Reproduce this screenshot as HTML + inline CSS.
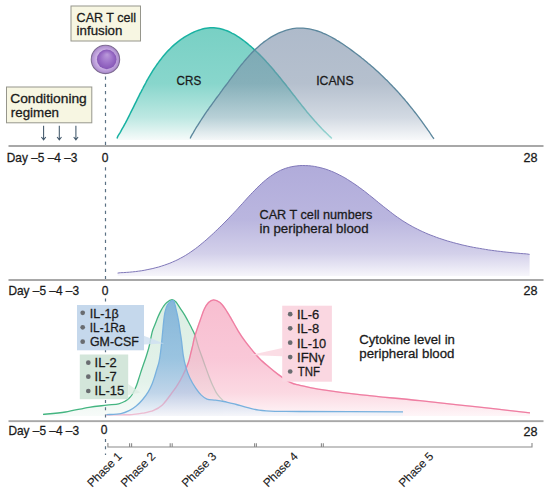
<!DOCTYPE html>
<html><head><meta charset="utf-8"><style>
html,body{margin:0;padding:0;background:#fff;}
svg{display:block;}
text{font-family:"Liberation Sans",sans-serif;fill:#1a1a1a;stroke:#1a1a1a;stroke-width:0.28px;}
.ph text{stroke-width:0.1px;}
</style></head><body>
<svg width="550" height="496" viewBox="0 0 550 496">
<defs>
<linearGradient id="gCRS" gradientUnits="userSpaceOnUse" x1="0" y1="27" x2="0" y2="140">
 <stop offset="0" stop-color="#78d0c4"/><stop offset="0.5" stop-color="#88d6cc"/><stop offset="0.8" stop-color="#bde8e2"/><stop offset="1" stop-color="#f6fbfa"/>
</linearGradient>
<linearGradient id="gICANS" gradientUnits="userSpaceOnUse" x1="0" y1="27" x2="0" y2="140">
 <stop offset="0" stop-color="#788ca7" stop-opacity="0.6"/><stop offset="0.5" stop-color="#8496ad" stop-opacity="0.6"/><stop offset="0.8" stop-color="#b4c0cf" stop-opacity="0.6"/><stop offset="1" stop-color="#f3f5f7" stop-opacity="0.6"/>
</linearGradient>
<linearGradient id="gCART" gradientUnits="userSpaceOnUse" x1="0" y1="163" x2="0" y2="276">
 <stop offset="0" stop-color="#b0abda"/><stop offset="0.5" stop-color="#bab6df"/><stop offset="0.8" stop-color="#d3d0ea"/><stop offset="1" stop-color="#f7f6fb"/>
</linearGradient>
<linearGradient id="gGreen" gradientUnits="userSpaceOnUse" x1="0" y1="300" x2="0" y2="416">
 <stop offset="0" stop-color="#dbeee3"/><stop offset="0.7" stop-color="#e3f2ea"/><stop offset="1" stop-color="#f7fbf9"/>
</linearGradient>
<linearGradient id="gBlue" gradientUnits="userSpaceOnUse" x1="0" y1="300" x2="0" y2="416">
 <stop offset="0" stop-color="#6fa7d6"/><stop offset="0.5" stop-color="#86b7de"/><stop offset="0.8" stop-color="#b4cce8"/><stop offset="1" stop-color="#f3f6fb"/>
</linearGradient>
<linearGradient id="gPink" gradientUnits="userSpaceOnUse" x1="0" y1="300" x2="0" y2="416">
 <stop offset="0" stop-color="#f5a5be"/><stop offset="0.5" stop-color="#f7b2c8"/><stop offset="0.8" stop-color="#facad7"/><stop offset="1" stop-color="#fef2f5"/>
</linearGradient>
<radialGradient id="gCell" cx="0.5" cy="0.5" r="0.5" fx="0.52" fy="0.25">
 <stop offset="0" stop-color="#bb9bdb"/><stop offset="0.6" stop-color="#9c70c8"/><stop offset="1" stop-color="#8657b6"/>
</radialGradient>
<radialGradient id="gCellO" cx="0.5" cy="0.5" r="0.5">
 <stop offset="0.62" stop-color="#cfb6e6"/><stop offset="1" stop-color="#a887cb"/>
</radialGradient>
</defs>

<!-- top panel -->
<path d="M117.0,138.5 L117.8,136.3 L118.8,134.7 L119.8,133.1 L120.8,131.4 L121.7,129.7 L122.7,128.0 L123.6,126.3 L124.5,124.6 L125.5,122.9 L126.4,121.1 L127.3,119.4 L128.2,117.6 L129.1,115.8 L130.0,114.0 L130.9,112.2 L131.8,110.4 L132.7,108.6 L133.6,106.8 L134.5,104.9 L135.4,103.1 L136.3,101.3 L137.2,99.4 L138.1,97.6 L139.0,95.8 L139.9,93.9 L140.9,92.1 L141.8,90.3 L142.8,88.5 L143.7,86.6 L144.7,84.8 L145.7,83.0 L146.6,81.2 L147.6,79.5 L148.6,77.7 L149.7,75.9 L150.7,74.2 L151.8,72.4 L152.8,70.7 L153.9,69.0 L155.0,67.3 L156.2,65.6 L157.3,64.0 L158.5,62.4 L159.7,60.7 L160.9,59.2 L162.1,57.6 L163.4,56.0 L164.7,54.5 L166.0,53.0 L167.3,51.5 L168.7,50.1 L170.1,48.7 L171.5,47.3 L173.0,45.9 L174.4,44.6 L176.0,43.3 L177.5,42.1 L179.1,40.8 L180.7,39.7 L182.3,38.5 L184.0,37.4 L185.7,36.3 L187.5,35.3 L189.3,34.3 L191.1,33.3 L192.9,32.5 L194.8,31.6 L196.7,30.9 L198.6,30.2 L200.5,29.6 L202.4,29.1 L204.3,28.6 L206.2,28.3 L208.2,28.0 L210.1,27.8 L212.0,27.8 L213.9,27.8 L215.8,28.0 L217.6,28.2 L219.5,28.6 L221.4,29.0 L223.2,29.5 L225.0,30.1 L226.9,30.8 L228.7,31.5 L230.5,32.4 L232.2,33.3 L234.0,34.2 L235.7,35.2 L237.5,36.3 L239.2,37.4 L240.9,38.6 L242.6,39.8 L244.2,41.0 L245.9,42.3 L247.5,43.6 L249.1,45.0 L250.7,46.3 L252.3,47.7 L253.8,49.1 L255.3,50.6 L256.8,52.0 L258.3,53.4 L259.8,54.9 L261.2,56.3 L262.7,57.8 L264.1,59.3 L265.5,60.8 L266.8,62.3 L268.2,63.8 L269.5,65.3 L270.9,66.8 L272.2,68.3 L273.5,69.8 L274.8,71.4 L276.1,72.9 L277.4,74.4 L278.6,76.0 L279.9,77.5 L281.2,79.1 L282.4,80.7 L283.6,82.2 L284.9,83.8 L286.1,85.3 L287.3,86.9 L288.6,88.5 L289.8,90.0 L291.0,91.6 L292.2,93.2 L293.4,94.8 L294.7,96.3 L295.9,97.9 L297.1,99.5 L298.3,101.0 L299.5,102.6 L300.8,104.1 L302.0,105.7 L303.3,107.3 L304.5,108.8 L305.8,110.4 L307.0,111.9 L308.3,113.4 L309.6,115.0 L310.9,116.5 L312.2,118.0 L313.5,119.5 L314.8,121.0 L316.2,122.5 L317.5,124.0 L318.9,125.5 L320.3,127.0 L321.7,128.5 L323.1,129.9 L324.5,131.4 L326.0,132.8 L327.5,134.2 L329.0,135.7 L330.5,137.1 L331.8,138.5 L331.8,140 L117.0,140 Z" fill="url(#gCRS)"/>
<path d="M117.0,138.5 L117.8,136.3 L118.8,134.7 L119.8,133.1 L120.8,131.4 L121.7,129.7 L122.7,128.0 L123.6,126.3 L124.5,124.6 L125.5,122.9 L126.4,121.1 L127.3,119.4 L128.2,117.6 L129.1,115.8 L130.0,114.0 L130.9,112.2 L131.8,110.4 L132.7,108.6 L133.6,106.8 L134.5,104.9 L135.4,103.1 L136.3,101.3 L137.2,99.4 L138.1,97.6 L139.0,95.8 L139.9,93.9 L140.9,92.1 L141.8,90.3 L142.8,88.5 L143.7,86.6 L144.7,84.8 L145.7,83.0 L146.6,81.2 L147.6,79.5 L148.6,77.7 L149.7,75.9 L150.7,74.2 L151.8,72.4 L152.8,70.7 L153.9,69.0 L155.0,67.3 L156.2,65.6 L157.3,64.0 L158.5,62.4 L159.7,60.7 L160.9,59.2 L162.1,57.6 L163.4,56.0 L164.7,54.5 L166.0,53.0 L167.3,51.5 L168.7,50.1 L170.1,48.7 L171.5,47.3 L173.0,45.9 L174.4,44.6 L176.0,43.3 L177.5,42.1 L179.1,40.8 L180.7,39.7 L182.3,38.5 L184.0,37.4 L185.7,36.3 L187.5,35.3 L189.3,34.3 L191.1,33.3 L192.9,32.5 L194.8,31.6 L196.7,30.9 L198.6,30.2 L200.5,29.6 L202.4,29.1 L204.3,28.6 L206.2,28.3 L208.2,28.0 L210.1,27.8 L212.0,27.8 L213.9,27.8 L215.8,28.0 L217.6,28.2 L219.5,28.6 L221.4,29.0 L223.2,29.5 L225.0,30.1 L226.9,30.8 L228.7,31.5 L230.5,32.4 L232.2,33.3 L234.0,34.2 L235.7,35.2 L237.5,36.3 L239.2,37.4 L240.9,38.6 L242.6,39.8 L244.2,41.0 L245.9,42.3 L247.5,43.6 L249.1,45.0 L250.7,46.3 L252.3,47.7 L253.8,49.1 L255.3,50.6 L256.8,52.0 L258.3,53.4 L259.8,54.9 L261.2,56.3 L262.7,57.8 L264.1,59.3 L265.5,60.8 L266.8,62.3 L268.2,63.8 L269.5,65.3 L270.9,66.8 L272.2,68.3 L273.5,69.8 L274.8,71.4 L276.1,72.9 L277.4,74.4 L278.6,76.0 L279.9,77.5 L281.2,79.1 L282.4,80.7 L283.6,82.2 L284.9,83.8 L286.1,85.3 L287.3,86.9 L288.6,88.5 L289.8,90.0 L291.0,91.6 L292.2,93.2 L293.4,94.8 L294.7,96.3 L295.9,97.9 L297.1,99.5 L298.3,101.0 L299.5,102.6 L300.8,104.1 L302.0,105.7 L303.3,107.3 L304.5,108.8 L305.8,110.4 L307.0,111.9 L308.3,113.4 L309.6,115.0 L310.9,116.5 L312.2,118.0 L313.5,119.5 L314.8,121.0 L316.2,122.5 L317.5,124.0 L318.9,125.5 L320.3,127.0 L321.7,128.5 L323.1,129.9 L324.5,131.4 L326.0,132.8 L327.5,134.2 L329.0,135.7 L330.5,137.1 L331.8,138.5" fill="none" stroke="#19b2a2" stroke-width="1.5"/>
<path d="M190.2,138.5 L191.0,136.6 L192.1,134.6 L193.2,132.8 L194.3,130.9 L195.4,129.0 L196.5,127.2 L197.7,125.4 L198.8,123.6 L199.9,121.8 L201.1,120.0 L202.3,118.2 L203.5,116.4 L204.6,114.7 L205.8,112.9 L207.0,111.2 L208.2,109.5 L209.4,107.7 L210.7,106.0 L211.9,104.3 L213.1,102.6 L214.4,100.9 L215.6,99.2 L216.8,97.5 L218.1,95.8 L219.4,94.1 L220.6,92.4 L221.9,90.7 L223.1,88.9 L224.4,87.2 L225.7,85.5 L227.0,83.8 L228.3,82.1 L229.5,80.3 L230.8,78.6 L232.1,76.8 L233.4,75.1 L234.7,73.3 L236.1,71.6 L237.4,69.9 L238.7,68.2 L240.1,66.4 L241.4,64.7 L242.8,63.1 L244.2,61.4 L245.6,59.7 L247.0,58.1 L248.5,56.5 L249.9,54.9 L251.4,53.3 L252.9,51.8 L254.4,50.3 L256.0,48.8 L257.5,47.4 L259.1,45.9 L260.7,44.6 L262.4,43.2 L264.0,41.9 L265.7,40.7 L267.5,39.5 L269.2,38.3 L271.0,37.2 L272.8,36.1 L274.7,35.1 L276.6,34.1 L278.5,33.2 L280.4,32.3 L282.4,31.6 L284.4,30.8 L286.5,30.2 L288.5,29.6 L290.6,29.1 L292.6,28.7 L294.7,28.4 L296.8,28.2 L298.9,28.1 L301.0,28.1 L303.1,28.1 L305.2,28.3 L307.2,28.6 L309.3,28.9 L311.4,29.3 L313.4,29.8 L315.4,30.4 L317.4,31.0 L319.4,31.7 L321.4,32.4 L323.4,33.3 L325.4,34.1 L327.3,35.0 L329.2,36.0 L331.2,37.0 L333.1,38.1 L335.0,39.2 L336.8,40.3 L338.7,41.4 L340.5,42.6 L342.4,43.8 L344.2,45.0 L346.0,46.3 L347.8,47.5 L349.6,48.8 L351.4,50.1 L353.1,51.4 L354.9,52.7 L356.6,54.0 L358.3,55.3 L360.0,56.6 L361.7,58.0 L363.4,59.3 L365.1,60.7 L366.7,62.0 L368.3,63.4 L370.0,64.8 L371.6,66.2 L373.2,67.6 L374.8,69.0 L376.4,70.4 L377.9,71.8 L379.5,73.3 L381.0,74.7 L382.6,76.2 L384.1,77.7 L385.6,79.2 L387.1,80.6 L388.6,82.1 L390.1,83.7 L391.6,85.2 L393.0,86.7 L394.5,88.2 L395.9,89.8 L397.3,91.3 L398.8,92.9 L400.2,94.5 L401.6,96.1 L403.0,97.7 L404.4,99.3 L405.7,100.9 L407.1,102.5 L408.5,104.2 L409.8,105.8 L411.1,107.5 L412.5,109.1 L413.8,110.8 L415.1,112.5 L416.4,114.2 L417.7,115.9 L419.0,117.6 L420.3,119.3 L421.6,121.1 L422.8,122.8 L424.1,124.6 L425.3,126.3 L426.6,128.1 L427.8,129.9 L429.1,131.7 L430.3,133.5 L431.5,135.3 L432.7,137.1 L434.0,138.7 L434.0,140 L190.2,140 Z" fill="url(#gICANS)"/>
<path d="M190.2,138.5 L191.0,136.6 L192.1,134.6 L193.2,132.8 L194.3,130.9 L195.4,129.0 L196.5,127.2 L197.7,125.4 L198.8,123.6 L199.9,121.8 L201.1,120.0 L202.3,118.2 L203.5,116.4 L204.6,114.7 L205.8,112.9 L207.0,111.2 L208.2,109.5 L209.4,107.7 L210.7,106.0 L211.9,104.3 L213.1,102.6 L214.4,100.9 L215.6,99.2 L216.8,97.5 L218.1,95.8 L219.4,94.1 L220.6,92.4 L221.9,90.7 L223.1,88.9 L224.4,87.2 L225.7,85.5 L227.0,83.8 L228.3,82.1 L229.5,80.3 L230.8,78.6 L232.1,76.8 L233.4,75.1 L234.7,73.3 L236.1,71.6 L237.4,69.9 L238.7,68.2 L240.1,66.4 L241.4,64.7 L242.8,63.1 L244.2,61.4 L245.6,59.7 L247.0,58.1 L248.5,56.5 L249.9,54.9 L251.4,53.3 L252.9,51.8 L254.4,50.3 L256.0,48.8 L257.5,47.4 L259.1,45.9 L260.7,44.6 L262.4,43.2 L264.0,41.9 L265.7,40.7 L267.5,39.5 L269.2,38.3 L271.0,37.2 L272.8,36.1 L274.7,35.1 L276.6,34.1 L278.5,33.2 L280.4,32.3 L282.4,31.6 L284.4,30.8 L286.5,30.2 L288.5,29.6 L290.6,29.1 L292.6,28.7 L294.7,28.4 L296.8,28.2 L298.9,28.1 L301.0,28.1 L303.1,28.1 L305.2,28.3 L307.2,28.6 L309.3,28.9 L311.4,29.3 L313.4,29.8 L315.4,30.4 L317.4,31.0 L319.4,31.7 L321.4,32.4 L323.4,33.3 L325.4,34.1 L327.3,35.0 L329.2,36.0 L331.2,37.0 L333.1,38.1 L335.0,39.2 L336.8,40.3 L338.7,41.4 L340.5,42.6 L342.4,43.8 L344.2,45.0 L346.0,46.3 L347.8,47.5 L349.6,48.8 L351.4,50.1 L353.1,51.4 L354.9,52.7 L356.6,54.0 L358.3,55.3 L360.0,56.6 L361.7,58.0 L363.4,59.3 L365.1,60.7 L366.7,62.0 L368.3,63.4 L370.0,64.8 L371.6,66.2 L373.2,67.6 L374.8,69.0 L376.4,70.4 L377.9,71.8 L379.5,73.3 L381.0,74.7 L382.6,76.2 L384.1,77.7 L385.6,79.2 L387.1,80.6 L388.6,82.1 L390.1,83.7 L391.6,85.2 L393.0,86.7 L394.5,88.2 L395.9,89.8 L397.3,91.3 L398.8,92.9 L400.2,94.5 L401.6,96.1 L403.0,97.7 L404.4,99.3 L405.7,100.9 L407.1,102.5 L408.5,104.2 L409.8,105.8 L411.1,107.5 L412.5,109.1 L413.8,110.8 L415.1,112.5 L416.4,114.2 L417.7,115.9 L419.0,117.6 L420.3,119.3 L421.6,121.1 L422.8,122.8 L424.1,124.6 L425.3,126.3 L426.6,128.1 L427.8,129.9 L429.1,131.7 L430.3,133.5 L431.5,135.3 L432.7,137.1 L434.0,138.7" fill="none" stroke="#5c879d" stroke-width="1.35"/>
<text x="176.6" y="84.8" font-size="13.65" textLength="24.6" lengthAdjust="spacingAndGlyphs" >CRS</text>
<text x="316.2" y="85.1" font-size="13.44" textLength="37.4" lengthAdjust="spacingAndGlyphs" >ICANS</text>

<!-- middle panel -->
<path d="M117.6,273.1 L120.5,272.7 L123.5,272.6 L126.4,272.4 L129.4,272.2 L132.4,271.9 L135.4,271.6 L138.3,271.2 L141.3,270.8 L144.2,270.3 L147.1,269.7 L150.0,269.1 L152.9,268.5 L155.8,267.7 L158.7,267.0 L161.5,266.1 L164.3,265.2 L167.1,264.2 L169.9,263.2 L172.6,262.0 L175.3,260.8 L177.9,259.6 L180.5,258.2 L183.1,256.8 L185.7,255.3 L188.2,253.7 L190.6,252.1 L193.0,250.4 L195.4,248.7 L197.8,246.9 L200.1,245.0 L202.4,243.1 L204.7,241.2 L206.9,239.3 L209.1,237.3 L211.3,235.3 L213.5,233.3 L215.6,231.3 L217.7,229.2 L219.8,227.2 L221.9,225.2 L224.0,223.1 L226.0,221.0 L228.1,218.9 L230.1,216.8 L232.1,214.7 L234.2,212.5 L236.2,210.4 L238.2,208.2 L240.2,205.9 L242.3,203.7 L244.3,201.4 L246.4,199.1 L248.4,196.9 L250.5,194.6 L252.6,192.4 L254.8,190.2 L256.9,188.0 L259.1,185.9 L261.3,183.8 L263.5,181.8 L265.8,179.9 L268.1,178.0 L270.5,176.3 L272.9,174.7 L275.4,173.1 L277.9,171.7 L280.4,170.4 L283.0,169.3 L285.7,168.3 L288.4,167.5 L291.2,166.8 L294.0,166.3 L296.9,165.9 L299.8,165.6 L302.7,165.5 L305.6,165.6 L308.6,165.7 L311.5,166.0 L314.4,166.4 L317.3,167.0 L320.2,167.6 L323.1,168.4 L325.9,169.2 L328.7,170.2 L331.5,171.3 L334.2,172.4 L336.9,173.7 L339.5,175.0 L342.2,176.4 L344.8,177.8 L347.4,179.4 L349.9,181.0 L352.4,182.6 L354.9,184.3 L357.4,186.0 L359.8,187.8 L362.3,189.6 L364.7,191.4 L367.1,193.3 L369.4,195.2 L371.8,197.0 L374.1,198.9 L376.4,200.8 L378.7,202.7 L381.0,204.6 L383.3,206.4 L385.7,208.3 L388.0,210.1 L390.3,211.9 L392.7,213.7 L395.0,215.5 L397.4,217.2 L399.8,218.8 L402.2,220.5 L404.7,222.0 L407.2,223.6 L409.7,225.0 L412.3,226.5 L414.9,227.9 L417.5,229.2 L420.1,230.5 L422.7,231.7 L425.4,232.9 L428.1,234.1 L430.9,235.2 L433.6,236.2 L436.4,237.3 L439.2,238.3 L442.0,239.2 L444.8,240.1 L447.6,241.0 L450.5,241.8 L453.3,242.6 L456.2,243.4 L459.1,244.1 L462.0,244.9 L464.9,245.5 L467.8,246.2 L470.8,246.8 L473.7,247.4 L476.6,247.9 L479.6,248.4 L482.5,248.9 L485.5,249.4 L488.5,249.9 L491.4,250.3 L494.4,250.7 L497.3,251.1 L500.3,251.4 L503.2,251.8 L506.2,252.1 L509.1,252.4 L512.1,252.7 L515.0,253.0 L517.9,253.2 L520.8,253.5 L523.7,253.7 L526.6,253.9 L529.6,254.4 L529.6,276 L117.6,276 Z" fill="url(#gCART)"/>
<path d="M117.6,273.1 L120.5,272.7 L123.5,272.6 L126.4,272.4 L129.4,272.2 L132.4,271.9 L135.4,271.6 L138.3,271.2 L141.3,270.8 L144.2,270.3 L147.1,269.7 L150.0,269.1 L152.9,268.5 L155.8,267.7 L158.7,267.0 L161.5,266.1 L164.3,265.2 L167.1,264.2 L169.9,263.2 L172.6,262.0 L175.3,260.8 L177.9,259.6 L180.5,258.2 L183.1,256.8 L185.7,255.3 L188.2,253.7 L190.6,252.1 L193.0,250.4 L195.4,248.7 L197.8,246.9 L200.1,245.0 L202.4,243.1 L204.7,241.2 L206.9,239.3 L209.1,237.3 L211.3,235.3 L213.5,233.3 L215.6,231.3 L217.7,229.2 L219.8,227.2 L221.9,225.2 L224.0,223.1 L226.0,221.0 L228.1,218.9 L230.1,216.8 L232.1,214.7 L234.2,212.5 L236.2,210.4 L238.2,208.2 L240.2,205.9 L242.3,203.7 L244.3,201.4 L246.4,199.1 L248.4,196.9 L250.5,194.6 L252.6,192.4 L254.8,190.2 L256.9,188.0 L259.1,185.9 L261.3,183.8 L263.5,181.8 L265.8,179.9 L268.1,178.0 L270.5,176.3 L272.9,174.7 L275.4,173.1 L277.9,171.7 L280.4,170.4 L283.0,169.3 L285.7,168.3 L288.4,167.5 L291.2,166.8 L294.0,166.3 L296.9,165.9 L299.8,165.6 L302.7,165.5 L305.6,165.6 L308.6,165.7 L311.5,166.0 L314.4,166.4 L317.3,167.0 L320.2,167.6 L323.1,168.4 L325.9,169.2 L328.7,170.2 L331.5,171.3 L334.2,172.4 L336.9,173.7 L339.5,175.0 L342.2,176.4 L344.8,177.8 L347.4,179.4 L349.9,181.0 L352.4,182.6 L354.9,184.3 L357.4,186.0 L359.8,187.8 L362.3,189.6 L364.7,191.4 L367.1,193.3 L369.4,195.2 L371.8,197.0 L374.1,198.9 L376.4,200.8 L378.7,202.7 L381.0,204.6 L383.3,206.4 L385.7,208.3 L388.0,210.1 L390.3,211.9 L392.7,213.7 L395.0,215.5 L397.4,217.2 L399.8,218.8 L402.2,220.5 L404.7,222.0 L407.2,223.6 L409.7,225.0 L412.3,226.5 L414.9,227.9 L417.5,229.2 L420.1,230.5 L422.7,231.7 L425.4,232.9 L428.1,234.1 L430.9,235.2 L433.6,236.2 L436.4,237.3 L439.2,238.3 L442.0,239.2 L444.8,240.1 L447.6,241.0 L450.5,241.8 L453.3,242.6 L456.2,243.4 L459.1,244.1 L462.0,244.9 L464.9,245.5 L467.8,246.2 L470.8,246.8 L473.7,247.4 L476.6,247.9 L479.6,248.4 L482.5,248.9 L485.5,249.4 L488.5,249.9 L491.4,250.3 L494.4,250.7 L497.3,251.1 L500.3,251.4 L503.2,251.8 L506.2,252.1 L509.1,252.4 L512.1,252.7 L515.0,253.0 L517.9,253.2 L520.8,253.5 L523.7,253.7 L526.6,253.9 L529.6,254.4" fill="none" stroke="#8078b9" stroke-width="1"/>
<text x="259.5" y="218.9" font-size="13.02" textLength="112.8" lengthAdjust="spacingAndGlyphs" >CAR T cell numbers</text>
<text x="259.5" y="232.6" font-size="13.02" textLength="109" lengthAdjust="spacingAndGlyphs" >in peripheral blood</text>

<!-- bottom panel -->
<path d="M43.0,414.4 C46.8,414.0 57.8,413.2 65.5,412.0 C73.2,410.8 82.2,408.4 89.0,407.3 C95.8,406.2 101.5,405.8 106.5,405.2 C111.5,404.6 115.6,404.5 118.7,403.8 C121.8,403.1 123.5,402.1 125.3,401.1 C127.1,400.1 128.2,399.1 129.3,398.0 C130.5,396.9 131.3,395.8 132.2,394.5 C133.1,393.2 133.8,391.6 134.6,390.0 C135.3,388.4 136.0,386.9 136.7,385.0 C137.4,383.1 138.1,380.8 138.8,378.5 C139.6,376.2 140.4,373.4 141.2,371.0 C142.0,368.6 142.7,366.6 143.6,364.0 C144.5,361.4 145.6,358.5 146.5,355.5 C147.4,352.5 148.3,350.0 149.2,346.1 C150.1,342.2 151.2,335.7 152.1,332.3 C153.0,328.9 153.6,328.1 154.5,325.8 C155.4,323.5 156.4,320.9 157.3,318.6 C158.2,316.3 159.2,314.1 160.2,312.1 C161.2,310.1 162.3,308.1 163.4,306.5 C164.5,304.9 165.4,303.5 166.8,302.4 C168.2,301.3 170.5,299.8 172.0,299.7 C173.5,299.6 174.7,300.6 176.0,302.0 C177.3,303.4 178.8,306.1 180.1,308.1 C181.4,310.1 182.8,311.9 184.1,314.1 C185.4,316.3 186.8,318.9 188.1,321.2 C189.4,323.5 190.5,325.8 191.7,328.2 C192.9,330.6 194.1,332.6 195.2,335.8 C196.3,339.0 197.4,343.6 198.5,347.1 C199.6,350.6 200.8,353.7 202.0,357.0 C203.2,360.3 204.3,363.6 205.5,366.9 C206.7,370.2 207.9,373.6 209.1,376.7 C210.3,379.8 211.4,382.6 212.6,385.2 C213.8,387.8 214.9,390.3 216.1,392.3 C217.3,394.3 218.5,395.8 219.7,397.2 C220.9,398.6 222.6,400.2 223.2,400.8 L223.2,416 L43.0,416 Z" fill="url(#gGreen)"/>
<path d="M43.0,414.4 C46.8,414.0 57.8,413.2 65.5,412.0 C73.2,410.8 82.2,408.4 89.0,407.3 C95.8,406.2 101.5,405.8 106.5,405.2 C111.5,404.6 115.6,404.5 118.7,403.8 C121.8,403.1 123.5,402.1 125.3,401.1 C127.1,400.1 128.2,399.1 129.3,398.0 C130.5,396.9 131.3,395.8 132.2,394.5 C133.1,393.2 133.8,391.6 134.6,390.0 C135.3,388.4 136.0,386.9 136.7,385.0 C137.4,383.1 138.1,380.8 138.8,378.5 C139.6,376.2 140.4,373.4 141.2,371.0 C142.0,368.6 142.7,366.6 143.6,364.0 C144.5,361.4 145.6,358.5 146.5,355.5 C147.4,352.5 148.3,350.0 149.2,346.1 C150.1,342.2 151.2,335.7 152.1,332.3 C153.0,328.9 153.6,328.1 154.5,325.8 C155.4,323.5 156.4,320.9 157.3,318.6 C158.2,316.3 159.2,314.1 160.2,312.1 C161.2,310.1 162.3,308.1 163.4,306.5 C164.5,304.9 165.4,303.5 166.8,302.4 C168.2,301.3 170.5,299.8 172.0,299.7 C173.5,299.6 174.7,300.6 176.0,302.0 C177.3,303.4 178.8,306.1 180.1,308.1 C181.4,310.1 182.8,311.9 184.1,314.1 C185.4,316.3 186.8,318.9 188.1,321.2 C189.4,323.5 190.5,325.8 191.7,328.2 C192.9,330.6 194.1,332.6 195.2,335.8 C196.3,339.0 197.4,343.6 198.5,347.1 C199.6,350.6 200.8,353.7 202.0,357.0 C203.2,360.3 204.3,363.6 205.5,366.9 C206.7,370.2 207.9,373.6 209.1,376.7 C210.3,379.8 211.4,382.6 212.6,385.2 C213.8,387.8 214.9,390.3 216.1,392.3 C217.3,394.3 218.5,395.8 219.7,397.2 C220.9,398.6 222.6,400.2 223.2,400.8" fill="none" stroke="#44b581" stroke-width="1.3"/>
<path d="M106.5,415.0 C108.9,415.0 116.7,414.9 120.9,414.8 C125.1,414.7 128.2,414.9 131.8,414.6 C135.4,414.3 139.1,413.9 142.7,413.2 C146.3,412.5 150.3,411.8 153.6,410.4 C156.9,409.0 159.7,407.4 162.4,404.9 C165.1,402.4 167.5,398.8 170.0,395.5 C172.5,392.2 175.2,388.6 177.4,385.2 C179.6,381.8 181.2,378.7 183.0,375.0 C184.8,371.3 186.9,366.7 188.2,363.0 C189.5,359.3 190.1,355.9 190.8,353.0 C191.6,350.1 192.1,347.8 192.7,345.4 C193.3,342.9 193.5,340.8 194.2,338.3 C194.9,335.8 195.7,333.3 196.7,330.3 C197.7,327.3 198.9,323.7 200.2,320.2 C201.5,316.7 202.9,312.1 204.3,309.1 C205.7,306.2 206.9,304.1 208.5,302.5 C210.1,300.9 211.7,299.8 213.6,299.8 C215.5,299.8 218.0,300.9 220.0,302.5 C222.0,304.1 223.6,306.5 225.4,309.1 C227.2,311.7 228.8,314.5 230.9,318.1 C233.0,321.7 235.7,326.9 238.1,330.8 C240.5,334.7 243.0,338.4 245.4,341.7 C247.8,345.0 250.3,347.9 252.7,350.8 C255.1,353.7 257.2,356.3 259.9,359.0 C262.6,361.7 266.0,364.5 269.0,367.1 C272.0,369.7 274.5,371.8 278.1,374.4 C281.7,377.0 287.2,380.8 290.8,382.6 C294.4,384.4 295.4,384.2 300.0,385.3 C304.6,386.4 307.9,387.5 318.2,389.1 C328.5,390.7 344.8,393.0 361.8,394.9 C378.8,396.8 401.1,398.7 420.0,400.7 C438.9,402.7 456.7,404.7 475.0,406.7 C493.3,408.7 520.8,411.8 530.0,412.8 L530.0,416 L106.5,416 Z" fill="url(#gPink)" fill-opacity="0.72"/>
<path d="M106.5,415.0 C108.9,415.0 116.7,414.9 120.9,414.8 C125.1,414.7 128.2,414.9 131.8,414.6 C135.4,414.3 139.1,413.9 142.7,413.2 C146.3,412.5 150.3,411.8 153.6,410.4 C156.9,409.0 159.7,407.4 162.4,404.9 C165.1,402.4 167.5,398.8 170.0,395.5 C172.5,392.2 175.2,388.6 177.4,385.2 C179.6,381.8 181.2,378.7 183.0,375.0 C184.8,371.3 186.9,366.7 188.2,363.0 C189.5,359.3 190.1,355.9 190.8,353.0 C191.6,350.1 192.1,347.8 192.7,345.4 C193.3,342.9 193.5,340.8 194.2,338.3 C194.9,335.8 195.7,333.3 196.7,330.3 C197.7,327.3 198.9,323.7 200.2,320.2 C201.5,316.7 202.9,312.1 204.3,309.1 C205.7,306.2 206.9,304.1 208.5,302.5 C210.1,300.9 211.7,299.8 213.6,299.8 C215.5,299.8 218.0,300.9 220.0,302.5 C222.0,304.1 223.6,306.5 225.4,309.1 C227.2,311.7 228.8,314.5 230.9,318.1 C233.0,321.7 235.7,326.9 238.1,330.8 C240.5,334.7 243.0,338.4 245.4,341.7 C247.8,345.0 250.3,347.9 252.7,350.8 C255.1,353.7 257.2,356.3 259.9,359.0 C262.6,361.7 266.0,364.5 269.0,367.1 C272.0,369.7 274.5,371.8 278.1,374.4 C281.7,377.0 287.2,380.8 290.8,382.6 C294.4,384.4 295.4,384.2 300.0,385.3 C304.6,386.4 307.9,387.5 318.2,389.1 C328.5,390.7 344.8,393.0 361.8,394.9 C378.8,396.8 401.1,398.7 420.0,400.7 C438.9,402.7 456.7,404.7 475.0,406.7 C493.3,408.7 520.8,411.8 530.0,412.8" fill="none" stroke="#f07fa3" stroke-width="1.3"/>
<path d="M106.5,414.7 C108.9,414.5 117.1,414.3 120.9,413.6 C124.8,412.9 127.0,411.7 129.6,410.4 C132.1,409.1 134.0,407.8 136.2,406.0 C138.4,404.2 140.7,401.9 142.7,399.5 C144.7,397.1 146.6,394.4 148.2,391.8 C149.8,389.2 150.9,386.8 152.0,384.2 C153.1,381.6 153.9,378.9 154.7,376.5 C155.5,374.1 155.9,372.4 156.6,370.0 C157.3,367.6 158.2,365.3 158.9,362.3 C159.6,359.3 160.2,355.2 160.6,352.0 C161.0,348.8 161.3,345.8 161.6,343.0 C161.9,340.2 162.1,337.9 162.3,335.5 C162.5,333.1 162.8,330.9 163.0,328.3 C163.2,325.8 163.5,322.9 163.8,320.2 C164.1,317.5 164.4,314.7 165.0,312.1 C165.6,309.6 166.3,306.8 167.4,304.9 C168.5,303.0 170.4,301.4 171.5,300.8 C172.6,300.2 173.2,299.9 174.0,301.6 C174.8,303.3 175.7,307.8 176.5,311.1 C177.3,314.4 178.0,317.8 178.6,321.2 C179.2,324.6 179.6,327.9 180.1,331.3 C180.6,334.7 181.1,337.4 181.6,341.3 C182.1,345.2 182.5,350.6 183.2,355.0 C183.9,359.4 184.8,363.5 185.9,367.4 C187.0,371.3 188.4,374.8 190.0,378.2 C191.6,381.6 193.8,385.3 195.7,388.1 C197.6,390.9 199.4,393.3 201.3,395.1 C203.2,396.9 204.7,398.3 207.0,399.1 C209.3,399.9 212.6,399.7 215.4,400.1 C218.2,400.5 221.5,401.0 223.9,401.5 C226.3,402.0 227.5,402.4 229.6,402.9 C231.7,403.4 233.5,403.7 236.5,404.5 C239.5,405.3 243.9,406.8 247.7,407.7 C251.4,408.6 254.4,409.6 259.0,410.2 C263.6,410.8 268.2,411.1 275.0,411.3 C281.8,411.5 278.7,411.4 300.0,411.5 C321.3,411.6 385.8,411.8 403.0,411.8 L403.0,416 L106.5,416 Z" fill="url(#gBlue)" fill-opacity="0.78"/>
<path d="M106.5,415.0 C108.9,415.0 116.7,414.9 120.9,414.8 C125.1,414.7 128.2,414.9 131.8,414.6 C135.4,414.3 139.1,413.9 142.7,413.2 C146.3,412.5 150.3,411.8 153.6,410.4 C156.9,409.0 159.7,407.4 162.4,404.9 C165.1,402.4 167.5,398.8 170.0,395.5 C172.5,392.2 175.2,388.6 177.4,385.2 C179.6,381.8 181.2,378.7 183.0,375.0 C184.8,371.3 186.9,366.7 188.2,363.0 C189.5,359.3 190.1,355.9 190.8,353.0 C191.6,350.1 192.1,347.8 192.7,345.4 C193.3,342.9 193.5,340.8 194.2,338.3 C194.9,335.8 195.7,333.3 196.7,330.3 C197.7,327.3 198.9,323.7 200.2,320.2 C201.5,316.7 202.9,312.1 204.3,309.1 C205.7,306.2 206.9,304.1 208.5,302.5 C210.1,300.9 211.7,299.8 213.6,299.8 C215.5,299.8 218.0,300.9 220.0,302.5 C222.0,304.1 223.6,306.5 225.4,309.1 C227.2,311.7 228.8,314.5 230.9,318.1 C233.0,321.7 235.7,326.9 238.1,330.8 C240.5,334.7 243.0,338.4 245.4,341.7 C247.8,345.0 250.3,347.9 252.7,350.8 C255.1,353.7 257.2,356.3 259.9,359.0 C262.6,361.7 266.0,364.5 269.0,367.1 C272.0,369.7 274.5,371.8 278.1,374.4 C281.7,377.0 287.2,380.8 290.8,382.6 C294.4,384.4 295.4,384.2 300.0,385.3 C304.6,386.4 307.9,387.5 318.2,389.1 C328.5,390.7 344.8,393.0 361.8,394.9 C378.8,396.8 401.1,398.7 420.0,400.7 C438.9,402.7 456.7,404.7 475.0,406.7 C493.3,408.7 520.8,411.8 530.0,412.8" fill="none" stroke="#f07fa3" stroke-width="1.3" stroke-opacity="0.3"/>
<path d="M106.5,414.7 C108.9,414.5 117.1,414.3 120.9,413.6 C124.8,412.9 127.0,411.7 129.6,410.4 C132.1,409.1 134.0,407.8 136.2,406.0 C138.4,404.2 140.7,401.9 142.7,399.5 C144.7,397.1 146.6,394.4 148.2,391.8 C149.8,389.2 150.9,386.8 152.0,384.2 C153.1,381.6 153.9,378.9 154.7,376.5 C155.5,374.1 155.9,372.4 156.6,370.0 C157.3,367.6 158.2,365.3 158.9,362.3 C159.6,359.3 160.2,355.2 160.6,352.0 C161.0,348.8 161.3,345.8 161.6,343.0 C161.9,340.2 162.1,337.9 162.3,335.5 C162.5,333.1 162.8,330.9 163.0,328.3 C163.2,325.8 163.5,322.9 163.8,320.2 C164.1,317.5 164.4,314.7 165.0,312.1 C165.6,309.6 166.3,306.8 167.4,304.9 C168.5,303.0 170.4,301.4 171.5,300.8 C172.6,300.2 173.2,299.9 174.0,301.6 C174.8,303.3 175.7,307.8 176.5,311.1 C177.3,314.4 178.0,317.8 178.6,321.2 C179.2,324.6 179.6,327.9 180.1,331.3 C180.6,334.7 181.1,337.4 181.6,341.3 C182.1,345.2 182.5,350.6 183.2,355.0 C183.9,359.4 184.8,363.5 185.9,367.4 C187.0,371.3 188.4,374.8 190.0,378.2 C191.6,381.6 193.8,385.3 195.7,388.1 C197.6,390.9 199.4,393.3 201.3,395.1 C203.2,396.9 204.7,398.3 207.0,399.1 C209.3,399.9 212.6,399.7 215.4,400.1 C218.2,400.5 221.5,401.0 223.9,401.5 C226.3,402.0 227.5,402.4 229.6,402.9 C231.7,403.4 233.5,403.7 236.5,404.5 C239.5,405.3 243.9,406.8 247.7,407.7 C251.4,408.6 254.4,409.6 259.0,410.2 C263.6,410.8 268.2,411.1 275.0,411.3 C281.8,411.5 278.7,411.4 300.0,411.5 C321.3,411.6 385.8,411.8 403.0,411.8" fill="none" stroke="#78b1de" stroke-width="1.3"/>

<!-- dashed line (segments with gaps at the 0 labels) -->
<g stroke="#5a7184" stroke-width="1.2" stroke-dasharray="3.2,4.05">
<line x1="105.5" y1="76.5" x2="105.5" y2="145"/>
<line x1="105.5" y1="167.3" x2="105.5" y2="279"/>
<line x1="105.5" y1="298.4" x2="105.5" y2="420"/>
<line x1="105.5" y1="438.9" x2="105.5" y2="455"/>
</g>

<!-- callout boxes -->
<rect x="77" y="305" width="67" height="45.3" fill="#c5d8ec"/>
<polygon points="143.8,335.8 164,343.5 143.8,344.4" fill="#d0e0f1" opacity="0.85"/>
<rect x="79.8" y="354.5" width="48.4" height="44.7" fill="#d3e6da"/>
<polygon points="128.2,384 140.5,392.4 128.2,395" fill="#dcece2" opacity="0.8"/>
<rect x="282.2" y="305.7" width="49.7" height="76" fill="#fad7e1"/>
<polygon points="282.4,348 250,355 282.4,356.2" fill="#fad7e1" opacity="0.85"/>

<g fill="#696c70">
<circle cx="82.7" cy="312.8" r="2.35"/><circle cx="82.7" cy="327.3" r="2.35"/><circle cx="82.7" cy="341.7" r="2.35"/>
<circle cx="88.3" cy="362.7" r="2.35"/><circle cx="88.3" cy="376.7" r="2.35"/><circle cx="88.3" cy="391" r="2.35"/>
<circle cx="290.2" cy="314.2" r="2.35"/><circle cx="290.2" cy="328.3" r="2.35"/><circle cx="290.2" cy="342.7" r="2.35"/><circle cx="290.2" cy="357.1" r="2.35"/><circle cx="290.2" cy="371.5" r="2.35"/>
</g>
<text x="89.8" y="317.9" font-size="12.81" textLength="28.8" lengthAdjust="spacingAndGlyphs" >IL-1β</text>
<text x="89.8" y="332.2" font-size="12.81" textLength="35.6" lengthAdjust="spacingAndGlyphs" >IL-1Ra</text>
<text x="90.0" y="346.4" font-size="12.81" textLength="48.8" lengthAdjust="spacingAndGlyphs" >GM-CSF</text>
<text x="94.6" y="367.2" font-size="12.81" textLength="22.2" lengthAdjust="spacingAndGlyphs" >IL-2</text>
<text x="94.6" y="381.2" font-size="12.81" textLength="22.2" lengthAdjust="spacingAndGlyphs" >IL-7</text>
<text x="94.6" y="395.2" font-size="12.81" textLength="29.7" lengthAdjust="spacingAndGlyphs" >IL-15</text>
<text x="297" y="318.9" font-size="12.81" textLength="22.3" lengthAdjust="spacingAndGlyphs" >IL-6</text>
<text x="297" y="333.2" font-size="12.81" textLength="22.3" lengthAdjust="spacingAndGlyphs" >IL-8</text>
<text x="297" y="347.5" font-size="12.81" textLength="29.2" lengthAdjust="spacingAndGlyphs" >IL-10</text>
<text x="297" y="361.6" font-size="12.81" textLength="27.6" lengthAdjust="spacingAndGlyphs" >IFNγ</text>
<text x="297.8" y="375.9" font-size="12.81" textLength="22.2" lengthAdjust="spacingAndGlyphs" >TNF</text>
<text x="359.3" y="344.3" font-size="13.02" textLength="95.6" lengthAdjust="spacingAndGlyphs" >Cytokine level in</text>
<text x="359.3" y="358.1" font-size="13.02" textLength="95.2" lengthAdjust="spacingAndGlyphs" >peripheral blood</text>

<!-- axes -->
<g fill="#a8a8a8">
<rect x="8.5" y="145" width="535" height="2"/>
<rect x="8.5" y="279" width="535" height="2"/>
<rect x="8.5" y="420.2" width="535" height="1.9"/>
</g>



<text x="6.8" y="161.6" font-size="12.60" textLength="70.6" lengthAdjust="spacingAndGlyphs" >Day –5 –4 –3</text><text x="101.8" y="161.8" font-size="12.60" textLength="6.7" lengthAdjust="spacingAndGlyphs" >0</text><text x="523.4" y="161.8" font-size="12.60" textLength="14" lengthAdjust="spacingAndGlyphs" >28</text>
<text x="8.4" y="295" font-size="12.60" textLength="70.6" lengthAdjust="spacingAndGlyphs" >Day –5 –4 –3</text><text x="101.8" y="295" font-size="12.60" textLength="6.7" lengthAdjust="spacingAndGlyphs" >0</text><text x="523.4" y="295.2" font-size="12.60" textLength="14" lengthAdjust="spacingAndGlyphs" >28</text>
<text x="8.4" y="435.1" font-size="12.60" textLength="70.6" lengthAdjust="spacingAndGlyphs" >Day –5 –4 –3</text><text x="100.7" y="433.6" font-size="12.60" textLength="6.7" lengthAdjust="spacingAndGlyphs" >0</text><text x="523.4" y="436.4" font-size="12.60" textLength="14" lengthAdjust="spacingAndGlyphs" >28</text>

<!-- phase bracket -->
<g stroke="#8a8a8a" stroke-width="1.1" fill="none">
<path d="M107.9,443 V447 H532 V443"/>
<path d="M129.6,443.2 V447 M131.6,443.2 V447"/>
<path d="M170.2,443.2 V447 M172.2,443.2 V447"/>
<path d="M254.6,443.2 V447 M256.4,443.2 V447"/>
<path d="M321.4,443.2 V447 M323.3,443.2 V447"/>
</g>
<g font-size="11.8" class="ph">
<text transform="translate(92,487.8) rotate(-45)">Phase 1</text>
<text transform="translate(125.5,487.8) rotate(-45)">Phase 2</text>
<text transform="translate(186.5,487.8) rotate(-45)">Phase 3</text>
<text transform="translate(268,487.8) rotate(-45)">Phase 4</text>
<text transform="translate(403.5,487.8) rotate(-45)">Phase 5</text>
</g>

<!-- conditioning -->
<rect x="6.5" y="87" width="85.3" height="35.8" fill="#f7f6e2" stroke="#96968c" stroke-width="1"/>
<text x="10.2" y="103.4" font-size="12.81" textLength="76.6" lengthAdjust="spacingAndGlyphs" >Conditioning</text>
<text x="10.8" y="116.6" font-size="12.81" textLength="48.2" lengthAdjust="spacingAndGlyphs" >regimen</text>
<g stroke="#41576a" stroke-width="1.05" fill="none">
<path d="M43.6,125.8 V139.6 M41.4,137 L43.6,139.8 L45.8,137"/>
<path d="M59.3,125.8 V139.6 M57.1,137 L59.3,139.8 L61.5,137"/>
<path d="M75.9,125.8 V139.6 M73.7,137 L75.9,139.8 L78.1,137"/>
</g>

<!-- CAR T infusion -->
<rect x="71" y="6" width="69.5" height="35" fill="#f7f6e2" stroke="#96968c" stroke-width="1"/>
<text x="76.6" y="22.2" font-size="12.81" textLength="59.4" lengthAdjust="spacingAndGlyphs" >CAR T cell</text>
<text x="76.6" y="35.3" font-size="12.81" textLength="45.8" lengthAdjust="spacingAndGlyphs" >infusion</text>
<circle cx="105.45" cy="59.4" r="14.2" fill="url(#gCellO)" stroke="#7e6c92" stroke-width="1.1"/>
<circle cx="106.7" cy="59.4" r="9.8" fill="url(#gCell)"/>
</svg>
</body></html>
